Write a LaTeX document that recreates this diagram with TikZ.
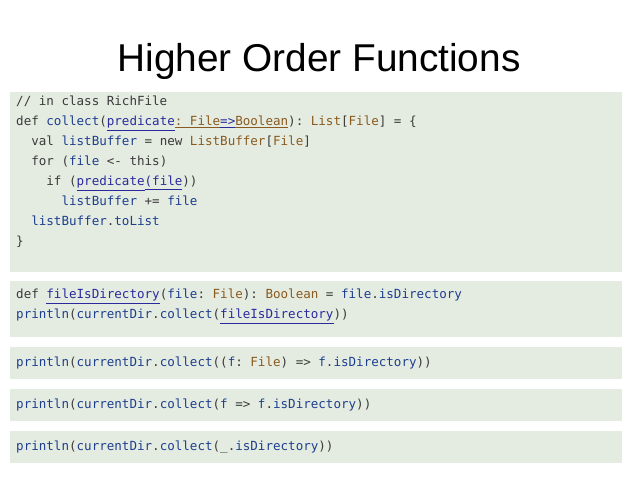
\documentclass[tikz,border=0pt]{standalone}
\usepackage{fontspec}
\setmainfont{Liberation Sans}
\newfontfamily\codefont{DejaVu Sans Mono}
\definecolor{codebg}{HTML}{E4ECE1}
\definecolor{cgray}{HTML}{3A3A3A}
\definecolor{cblue}{HTML}{1E3E8E}
\definecolor{cbrown}{HTML}{8A5A1E}
\definecolor{cul}{HTML}{2A2A9C}
\newcommand{\B}[1]{\textcolor{cblue}{#1}}
\newcommand{\T}[1]{\textcolor{cbrown}{#1}}
\newcommand{\U}[1]{\textcolor{cul}{\underline{#1}}}
\newcommand{\UT}[1]{\textcolor{cbrown}{\underline{#1}}}
\frenchspacing
\begin{document}
\begin{tikzpicture}[x=1pt,y=-1pt,
  codebox/.style={fill=codebg,draw=none},
  codeline/.style={anchor=base west,inner sep=0pt,font=\codefont\fontsize{12.55}{14}\selectfont\frenchspacing,text=cgray}]
\useasboundingbox (0,0) rectangle (638,478);
\node[font=\fontsize{38.8}{44}\selectfont,anchor=base] (title) at (319,72) {Higher Order Functions};
\fill[codebox] (10,92) rectangle (622,272);
\fill[codebox] (10,281) rectangle (622,337);
\fill[codebox] (10,347) rectangle (622,379);
\fill[codebox] (10,389) rectangle (622,421);
\fill[codebox] (10,431) rectangle (622,463);
\node[codeline] (l1) at (16,106) {// in class RichFile};
\node[codeline] (l2) at (16,126) {def \B{collect}(\U{predicate}\UT{:\ File}\U{=>}\UT{Boolean}): \T{List}[\T{File}] = \{};
\node[codeline] (l3) at (16,146) {\ \ val \B{listBuffer} = new \T{ListBuffer}[\T{File}]};
\node[codeline] (l4) at (16,166) {\ \ for (\B{file} <- this)};
\node[codeline] (l5) at (16,186) {\ \ \ \ if (\U{predicate}\U{(file}))};
\node[codeline] (l6) at (16,206) {\ \ \ \ \ \ \B{listBuffer} += \B{file}};
\node[codeline] (l7) at (16,226) {\ \ \B{listBuffer}.\B{toList}};
\node[codeline] (l8) at (16,246) {\}};
\node[codeline] (m1) at (16,299) {def \U{fileIsDirectory}(\B{file}: \T{File}): \T{Boolean} = \B{file}.\B{isDirectory}};
\node[codeline] (m2) at (16,319) {\B{println}(\B{currentDir}.\B{collect}(\U{fileIsDirectory}))};
\node[codeline] (n1) at (16,367) {\B{println}(\B{currentDir}.\B{collect}((\B{f}: \T{File}) => \B{f}.\B{isDirectory}))};
\node[codeline] (o1) at (16,409) {\B{println}(\B{currentDir}.\B{collect}(\B{f} => \B{f}.\B{isDirectory}))};
\node[codeline] (p1) at (16,451) {\B{println}(\B{currentDir}.\B{collect}(\_.\B{isDirectory}))};
\end{tikzpicture}
\end{document}
